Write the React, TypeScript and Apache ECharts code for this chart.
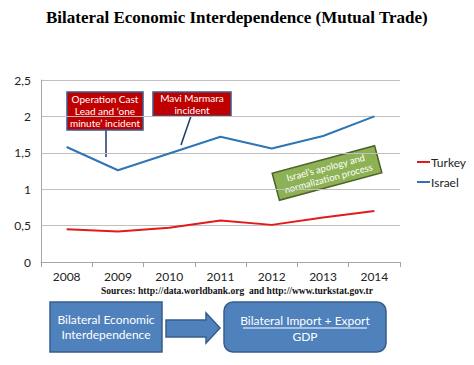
import React, { useEffect, useRef } from "react";
import * as echarts from "echarts";

const years = ["2008", "2009", "2010", "2011", "2012", "2013", "2014"];
const turkey = [0.45, 0.42, 0.47, 0.57, 0.51, 0.61, 0.7];
const israel = [1.58, 1.26, 1.49, 1.72, 1.56, 1.73, 2.0];
const yTicks = { min: 0, max: 2.5, interval: 0.5 };

const SANS = "Lato, 'Open Sans', sans-serif";
const SERIF = "'Liberation Serif', 'Times New Roman', serif";

export default function App() {
  const ref = useRef<HTMLDivElement>(null);
  useEffect(() => {
    const chart = echarts.init(ref.current!, null, { renderer: "svg" });
    chart.setOption({
      animation: false,
      backgroundColor: "#ffffff",
      grid: { left: 41, right: 74, top: 80, bottom: 103 },
      legend: {
        orient: "vertical",
        left: 412,
        top: 151,
        itemGap: 8,
        itemWidth: 13,
        itemHeight: 2,
        icon: "rect",
        textStyle: { fontFamily: SANS, fontSize: 12, color: "#222", padding: [0, 0, 0, -4] },
        data: ["Turkey", "Israel"],
      },
      xAxis: {
        type: "category",
        data: years,
        boundaryGap: true,
        axisLine: { lineStyle: { color: "#a6a6a6" } },
        axisTick: { show: true, length: 5, lineStyle: { color: "#a6a6a6" } },
        axisLabel: { fontFamily: SANS, fontSize: 12, color: "#222", margin: 8 },
      },
      yAxis: {
        type: "value",
        min: yTicks.min,
        max: yTicks.max,
        interval: yTicks.interval,
        axisLine: { show: true, lineStyle: { color: "#a6a6a6" } },
        axisTick: { show: false },
        splitLine: { lineStyle: { color: "#bfbfbf" } },
        axisLabel: {
          fontFamily: SANS,
          fontSize: 12,
          color: "#222",
          margin: 10,
          formatter: (v: number) => String(v).replace(".", ","),
        },
      },
      series: [
        {
          name: "Turkey",
          type: "line",
          data: turkey,
          color: "#e31a1c",
          symbol: "none",
          lineStyle: { width: 2, color: "#e31a1c" },
        },
        {
          name: "Israel",
          type: "line",
          data: israel,
          color: "#2e75b6",
          symbol: "none",
          lineStyle: { width: 2, color: "#2e75b6" },
        },
      ],
      graphic: [
        {
          type: "text",
          left: "center",
          top: 9,
          style: {
            text: "Bilateral Economic Interdependence (Mutual Trade)",
            font: `bold 17px ${SERIF}`,
            fill: "#000",
          },
        },
        // Operation Cast Lead box
        {
          type: "line",
          shape: { x1: 106, y1: 130, x2: 106, y2: 157 },
          style: { stroke: "#1f3a5f", lineWidth: 1.5 },
        },
        {
          type: "rect",
          shape: { x: 67, y: 92, width: 76, height: 38 },
          style: { fill: "#c00000", stroke: "#3a5a8c", lineWidth: 1.5 },
        },
        {
          type: "text",
          x: 105,
          y: 111,
          style: {
            text: "Operation Cast\nLead and \u2018one\nminute\u2019 incident",
            font: `10px ${SANS}`,
            fill: "#fff",
            align: "center",
            verticalAlign: "middle",
            lineHeight: 12,
          },
        },
        // Mavi Marmara box
        {
          type: "line",
          shape: { x1: 191, y1: 116, x2: 181, y2: 145 },
          style: { stroke: "#1f3a5f", lineWidth: 1.5 },
        },
        {
          type: "rect",
          shape: { x: 153, y: 92, width: 78, height: 24 },
          style: { fill: "#c00000", stroke: "#3a5a8c", lineWidth: 1.5 },
        },
        {
          type: "text",
          x: 192,
          y: 104,
          style: {
            text: "Mavi Marmara\nincident",
            font: `10px ${SANS}`,
            fill: "#fff",
            align: "center",
            verticalAlign: "middle",
            lineHeight: 12,
          },
        },
        // Green rotated box
        {
          type: "group",
          x: 327,
          y: 173,
          rotation: (15 * Math.PI) / 180,
          children: [
            {
              type: "rect",
              shape: { x: -53, y: -14, width: 106, height: 28 },
              style: { fill: "#8db255", stroke: "#4f6228", lineWidth: 1.5 },
            },
            {
              type: "text",
              x: 0,
              y: 0,
              style: {
                text: "Israel\u2019s apology and\nnormalization process",
                font: `9.5px ${SANS}`,
                fill: "#fff",
                align: "center",
                verticalAlign: "middle",
                lineHeight: 11,
              },
            },
          ],
        },
        // Sources
        {
          type: "text",
          left: "center",
          top: 286,
          style: {
            text: "Sources: http://data.worldbank.org  and http://www.turkstat.gov.tr",
            font: `bold 9.5px ${SERIF}`,
            fill: "#111",
          },
        },
        // Bottom left box
        {
          type: "rect",
          shape: { x: 50, y: 302, width: 112, height: 50 },
          style: { fill: "#4f81bd", stroke: "#385d8a", lineWidth: 1.5 },
        },
        {
          type: "text",
          x: 106,
          y: 327,
          style: {
            text: "Bilateral Economic\nInterdependence",
            font: `12px ${SANS}`,
            fill: "#fff",
            align: "center",
            verticalAlign: "middle",
            lineHeight: 15,
          },
        },
        // Arrow
        {
          type: "polygon",
          shape: {
            points: [
              [166, 320],
              [206, 320],
              [206, 313],
              [220, 328],
              [206, 343],
              [206, 337],
              [166, 337],
            ],
          },
          style: { fill: "#4f81bd", stroke: "#385d8a", lineWidth: 1.5 },
        },
        // Right rounded box
        {
          type: "rect",
          shape: { x: 224, y: 302, width: 162, height: 50, r: 9 },
          style: { fill: "#4f81bd", stroke: "#385d8a", lineWidth: 1.5 },
        },
        {
          type: "text",
          x: 305,
          y: 320,
          style: {
            text: "Bilateral Import + Export",
            font: `12px ${SANS}`,
            fill: "#fff",
            align: "center",
            verticalAlign: "middle",
          },
        },
        {
          type: "line",
          shape: { x1: 243, y1: 328, x2: 367, y2: 328 },
          style: { stroke: "#fff", lineWidth: 1 },
        },
        {
          type: "text",
          x: 305,
          y: 336,
          style: {
            text: "GDP",
            font: `12px ${SANS}`,
            fill: "#fff",
            align: "center",
            verticalAlign: "middle",
          },
        },
      ],
    });
    return () => chart.dispose();
  }, []);
  return (
    <div
      ref={ref}
      style={{ position: "absolute", left: 0, top: 0, width: 474, height: 365 }}
    />
  );
}
